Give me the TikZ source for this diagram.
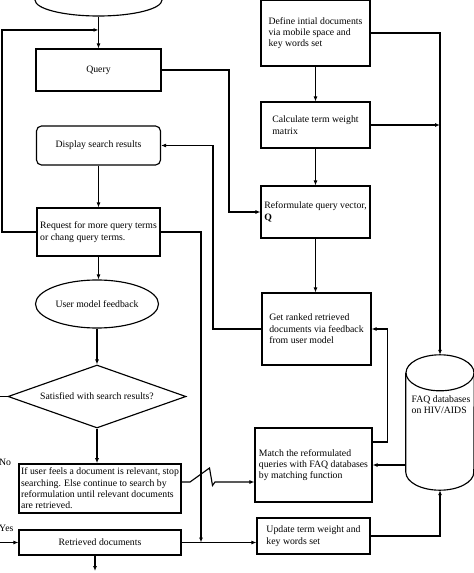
\documentclass[tikz,border=0pt]{standalone}
\usepackage{fontspec}
\setmainfont{Liberation Serif}
\usetikzlibrary{shapes.geometric,arrows.meta,calc}
\begin{document}
\begin{tikzpicture}[x=1bp,y=-1bp,
  every node/.style={font=\fontsize{9.8}{11.4}\selectfont},
  ln/.style={line width=1.15pt},
  box/.style={draw, ln, inner sep=0pt, align=left},
  cbox/.style={box, align=center},
  arr/.style={ln, -{Latex[length=5bp,width=4bp]}}]
\useasboundingbox (0,0) rectangle (474,573);
% left column
\node[draw, ellipse, ln, minimum width=127bp, minimum height=32bp] (topell) at (98.5,0) {};
\node[cbox, minimum width=125bp, minimum height=42bp] (query) at (98.5,70) {Query};
\node[cbox, rounded corners=5bp, minimum width=124bp, minimum height=39bp] (display) at (98.5,145.5) {Display search results};
\node[box, minimum width=123bp, minimum height=48bp] (request) at (98.5,232) {Request for more query terms\\or chang query terms.};
\node[draw, ellipse, ln, inner sep=0pt, minimum width=123bp, minimum height=48bp] (umf) at (97,304) {User model feedback};
\node[draw, diamond, aspect=2.83, ln, inner sep=0pt, minimum width=178bp, minimum height=63bp] (dia) at (97,396.5) {Satisfied with search results?};
\node[box, line width=1.6pt, minimum width=162bp, minimum height=49bp] (ifbox) at (100,488.5) {If user feels a document is relevant, stop\\searching. Else continue to search by\\reformulation until relevant documents\\are retrieved.};
\node[cbox, minimum width=162bp, minimum height=25bp] (retr) at (100,542.5) {Retrieved documents};
\node[anchor=west, inner sep=0pt] (nolab) at (-1,462) {No};
\node[anchor=west, inner sep=0pt] (yeslab) at (-1,528) {Yes};
% right column
\node[box, minimum width=109bp, minimum height=66bp] (define) at (315.5,33) {Define intial documents\\via mobile space and\\key words set};
\node[box, minimum width=109bp, minimum height=46bp] (calc) at (315.5,125) {Calculate term weight\\matrix};
\node[box, minimum width=109bp, minimum height=52bp] (reform) at (315.5,212) {Reformulate query vector,\\\textbf{Q}};
\node[box, minimum width=109bp, minimum height=72bp] (getrank) at (316.5,329) {Get ranked retrieved\\documents via feedback\\from user model};
\node[box, minimum width=117bp, minimum height=74bp] (match) at (313.5,465) {Match the reformulated\\queries with FAQ databases\\by matching function};
\node[box, minimum width=113bp, minimum height=36bp] (update) at (313.5,536) {Update term weight and\\key words set};
% database cylinder
\node[inner sep=0pt, minimum width=68bp, minimum height=135bp] (db) at (440,422.5) {};
\draw[ln] ($(db.north)+(0,18)$) ellipse [x radius=34bp, y radius=18bp];
\draw[ln] ($(db.north west)+(0,18)$) -- ($(db.south west)+(0,-18)$)
  arc[start angle=180, end angle=360, x radius=34bp, y radius=18bp]
  -- ($(db.north east)+(0,18)$);
\node[align=left, inner sep=0pt] (dbt) at (441,404.5) {FAQ databases\\on HIV/AIDS};
% helper coordinates
\coordinate (j1) at ($(topell.south)!0.42!(query.north)$);
\coordinate (xl) at (2,0);
\coordinate (xq) at (229,0);
\coordinate (xg) at (213,0);
\coordinate (xr) at (201,0);
\coordinate (xe) at (0,0);
\coordinate (bot) at (95,571);
% connectors left column
\draw[arr] (topell.south) -- (query.north);
\draw[arr] (request.west) -- (request.west -| xl) |- (j1);
\draw[arr] (display.south) -- (display.south |- request.north);
\draw[arr] (request.south) -- (request.south |- umf.north);
\draw[arr] (umf.south) -- (dia.north);
\draw[ln] (dia.west) -- (dia.west -| xe);
\draw[arr] (dia.south) -- (dia.south |- ifbox.north);
\draw[arr] (retr.west -| xe) -- (retr.west);
\draw[arr] (bot |- retr.south) -- (bot);
% cross connectors
\draw[arr] (query.east) -- (query.east -| xq) |- (reform.west);
\draw[arr] (getrank.west) -- (getrank.west -| xg) |- (display.east);
\draw[arr] (request.east) -| (xr |- retr.east);
\draw[arr] ([yshift=6.5bp]ifbox.east) -- (190,482) -- (209.5,468) -- (212.5,485.5) -- (215,482) -- (match.west |- 0,482);
\draw[arr] (retr.east) -- (retr.east -| update.west);
% connectors right column
\draw[arr] (define.south) -- (define.south |- calc.north);
\draw[arr] (calc.south) -- (calc.south |- reform.north);
\draw[arr] (reform.south) -- (reform.south |- getrank.north);
\draw[arr] ([yshift=23bp]match.east) -- ++(15,0) |- (getrank.east);
\draw[arr] (db.west |- match.east) -- (match.east);
\draw[arr] (define.east) -| (db.north);
\draw[arr] (calc.east) -- (calc.east -| db.north);
\draw[arr] (update.east) -| (db.south);
\end{tikzpicture}
\end{document}
